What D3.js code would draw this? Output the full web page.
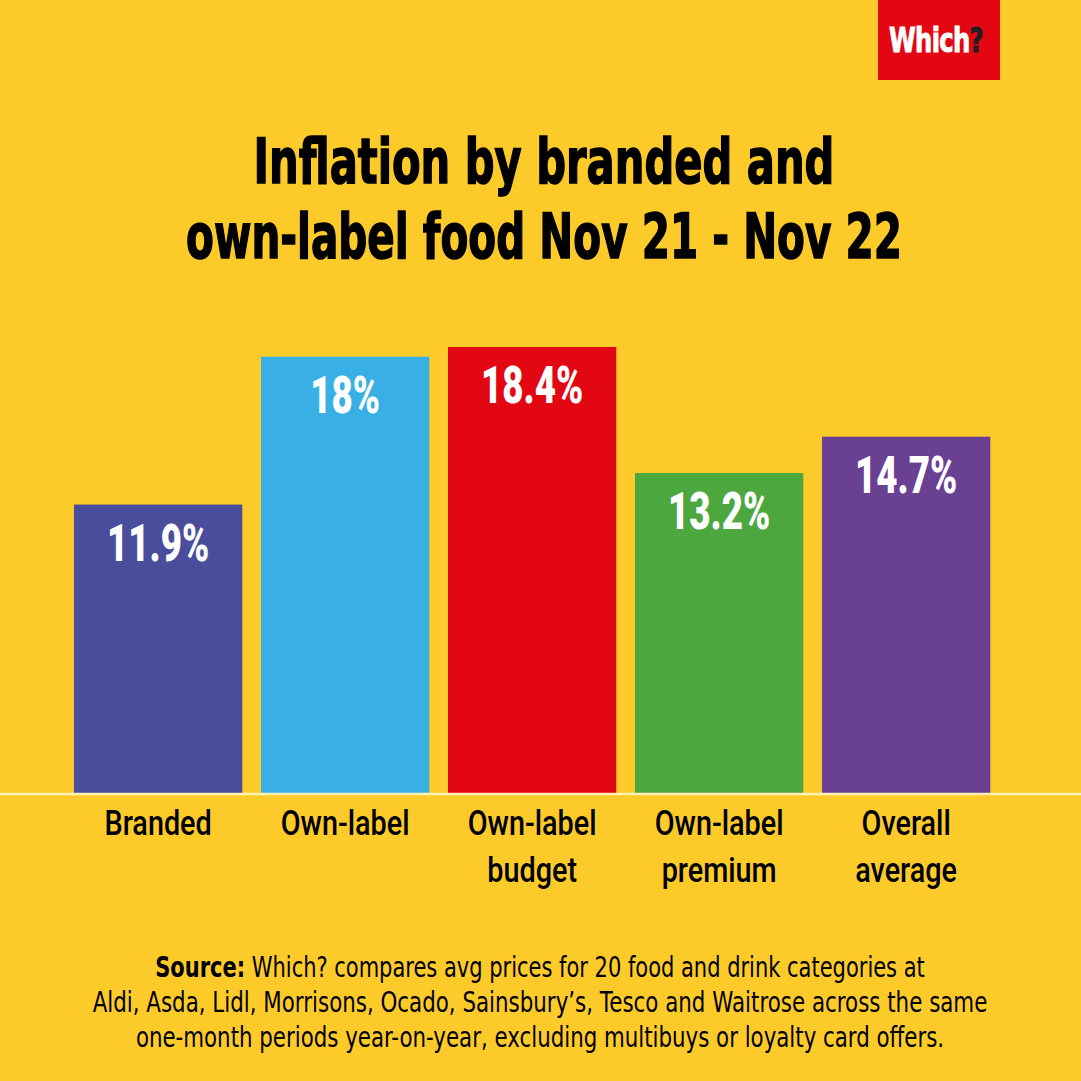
<!DOCTYPE html>
<meta charset="utf-8">
<style>
body { margin: 0; background: #fdcb29; }
svg { display: block; }
text { font-family: "DejaVu Sans", sans-serif; }
.title { font-size: 62px; font-weight: bold; fill: #000; stroke: #000; stroke-width: 1.6px; }
.value { font-family: Roboto, sans-serif; font-size: 51px; font-weight: 900; fill: #fff; text-anchor: middle; }
.cat { font-family: Roboto, sans-serif; font-size: 36px; font-weight: 500; fill: #000; text-anchor: middle; }
.source { font-size: 28px; fill: #000; }
</style>
<svg width="1081" height="1081"></svg>
<script src="https://cdn.jsdelivr.net/npm/d3@7"></script>
<script>

var categories = ["Branded", "Own-label", "Own-label budget", "Own-label premium", "Overall average"],
    values = [11.9, 18, 18.4, 13.2, 14.7],
    valueLabels = ["11.9%", "18%", "18.4%", "13.2%", "14.7%"],
    catLines = [["Branded"], ["Own-label"], ["Own-label", "budget"], ["Own-label", "premium"], ["Overall", "average"]],
    colors = ["#4a4d9c", "#38b0e5", "#e30613", "#4ca73f", "#6a4093"];

var titleLines = ["Inflation by branded and", "own-label food Nov 21 - Nov 22"];
var sourceLines = [
  ["Source:", " Which? compares avg prices for 20 food and drink categories at"],
  ["", "Aldi, Asda, Lidl, Morrisons, Ocado, Sainsbury\u2019s, Tesco and Waitrose across the same"],
  ["", "one-month periods year-on-year, excluding multibuys or loyalty card offers."]
];

var svg = d3.select("svg"),
    width = +svg.attr("width"),
    height = +svg.attr("height");

svg.append("rect").attr("width", width).attr("height", height).attr("fill", "#fdcb29");

// squeeze a text horizontally to a given width, centred on cx
function squeeze(sel, cx, y, w) {
  var natural = sel.node().getComputedTextLength();
  sel.attr("text-anchor", "middle")
    .attr("transform", "translate(" + cx + "," + y + ") scale(" + (w / natural) + ",1)");
}

// logo
var logo = svg.append("g");
logo.append("rect").attr("x", 878).attr("y", 0).attr("width", 122).attr("height", 80).attr("fill", "#e30613");
var lt = logo.append("text")
    .style("font-weight", "bold").style("font-size", "34px")
    .style("letter-spacing", "-1px");
lt.append("tspan").attr("fill", "#fff").attr("stroke", "#fff").attr("stroke-width", 1).text("Which");
lt.append("tspan").attr("fill", "#231f20").attr("stroke", "#231f20").attr("stroke-width", 1).text("?");
squeeze(lt, 936, 52, 94);

// title
var titleY = [183, 258], titleW = [581, 716];
svg.selectAll(".title")
    .data(titleLines)
  .enter().append("text")
    .attr("class", "title")
    .text(d => d)
    .each(function(d, i) { squeeze(d3.select(this), 544, titleY[i], titleW[i]); });

// chart
var baseY = 793;
var x = d3.scaleBand()
    .domain(categories)
    .range([64.65, 999.65])
    .paddingInner(0.1)
    .paddingOuter(0.05);

var y = d3.scaleLinear()
    .domain([0, 18.4])
    .range([baseY, 347]);

svg.selectAll(".bar")
    .data(categories)
  .enter().append("rect")
    .attr("class", "bar")
    .attr("x", d => x(d))
    .attr("width", x.bandwidth())
    .attr("y", (d, i) => y(values[i]))
    .attr("height", (d, i) => baseY - y(values[i]))
    .attr("fill", (d, i) => colors[i]);

svg.append("line")
    .attr("x1", 0).attr("x2", width)
    .attr("y1", baseY + 1).attr("y2", baseY + 1)
    .attr("stroke", "#fff0b4")
    .attr("stroke-width", 2.5);

svg.selectAll(".value")
    .data(categories)
  .enter().append("text")
    .attr("class", "value")
    .attr("transform", (d, i) => "translate(" + (x(d) + x.bandwidth() / 2) + "," + (y(values[i]) + 56) + ") scale(0.72,1)")
    .text((d, i) => valueLabels[i]);

var cat = svg.selectAll(".cat")
    .data(categories)
  .enter().append("text")
    .attr("class", "cat")
    .attr("transform", d => "translate(" + (x(d) + x.bandwidth() / 2) + ",0) scale(0.8,1)");

cat.selectAll("tspan")
    .data((d, i) => catLines[i])
  .enter().append("tspan")
    .attr("x", 0)
    .attr("y", (d, j) => 835 + j * 47)
    .text(d => d);

// source
var srcY = [977, 1012, 1047], srcW = [770, 895, 809];
var src = svg.selectAll(".source")
    .data(sourceLines)
  .enter().append("text")
    .attr("class", "source");
src.append("tspan").style("font-weight", "bold").text(d => d[0]);
src.append("tspan").text(d => d[1]);
src.each(function(d, i) { squeeze(d3.select(this), 540, srcY[i], srcW[i]); });

</script>
